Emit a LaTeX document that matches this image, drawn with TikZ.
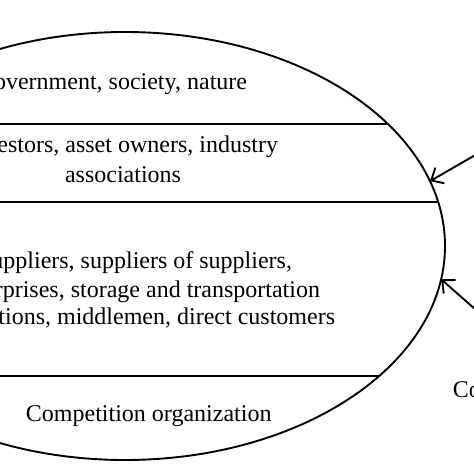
\documentclass[tikz,border=0pt]{standalone}
\usepackage{fontspec}
\setmainfont{Liberation Serif}
\usetikzlibrary{shapes.geometric,arrows.meta}

\begin{document}
\begin{tikzpicture}[x=1pt,y=-1pt,line width=1.9pt,
    lbl/.style={font=\fontsize{24}{29}\selectfont,inner sep=0pt},
    infl/.style={-{Straight Barb[length=10pt,width=18pt]}}]
  \clip (0,0) rectangle (474,474);
  % ellipse: centre (125,246), radii 320 x 214
  \node[draw,ellipse,minimum width=640pt,minimum height=428pt,inner sep=0pt,outer sep=0pt] (env) at (125,246) {};
  % band borders
  \foreach \a in {25.15,8.57,-27.4}{\draw (env.\a) -- (-5,0 |- env.\a);}
  % texts, right ends
  \foreach \nm/\xx/\yy/\txt in {gov/248/89/{overnment, society, nature},
      inv/279/152/{estors, asset owners, industry},asc/182/182/{associations},
      sup/293/268/{uppliers, suppliers of suppliers,},
      ent/321/297/{rprises, storage and transportation},
      mid/336/324/{tions, middlemen, direct customers}}{\node[lbl,anchor=base east] (\nm) at (\xx,\yy) {\txt};}
  \node[lbl,anchor=base west] (comp) at (25,421) {Competition organization};
  \node[lbl,anchor=base west] (co) at (452,397) {Co};
  % arrows from the right
  \coordinate (src1) at (484,150);
  \coordinate (src2) at (484,317);
  \draw[infl] (src1) -- (env.12.3);
  \draw[infl] (src2) -- (env.-6.9);
\end{tikzpicture}
\end{document}
